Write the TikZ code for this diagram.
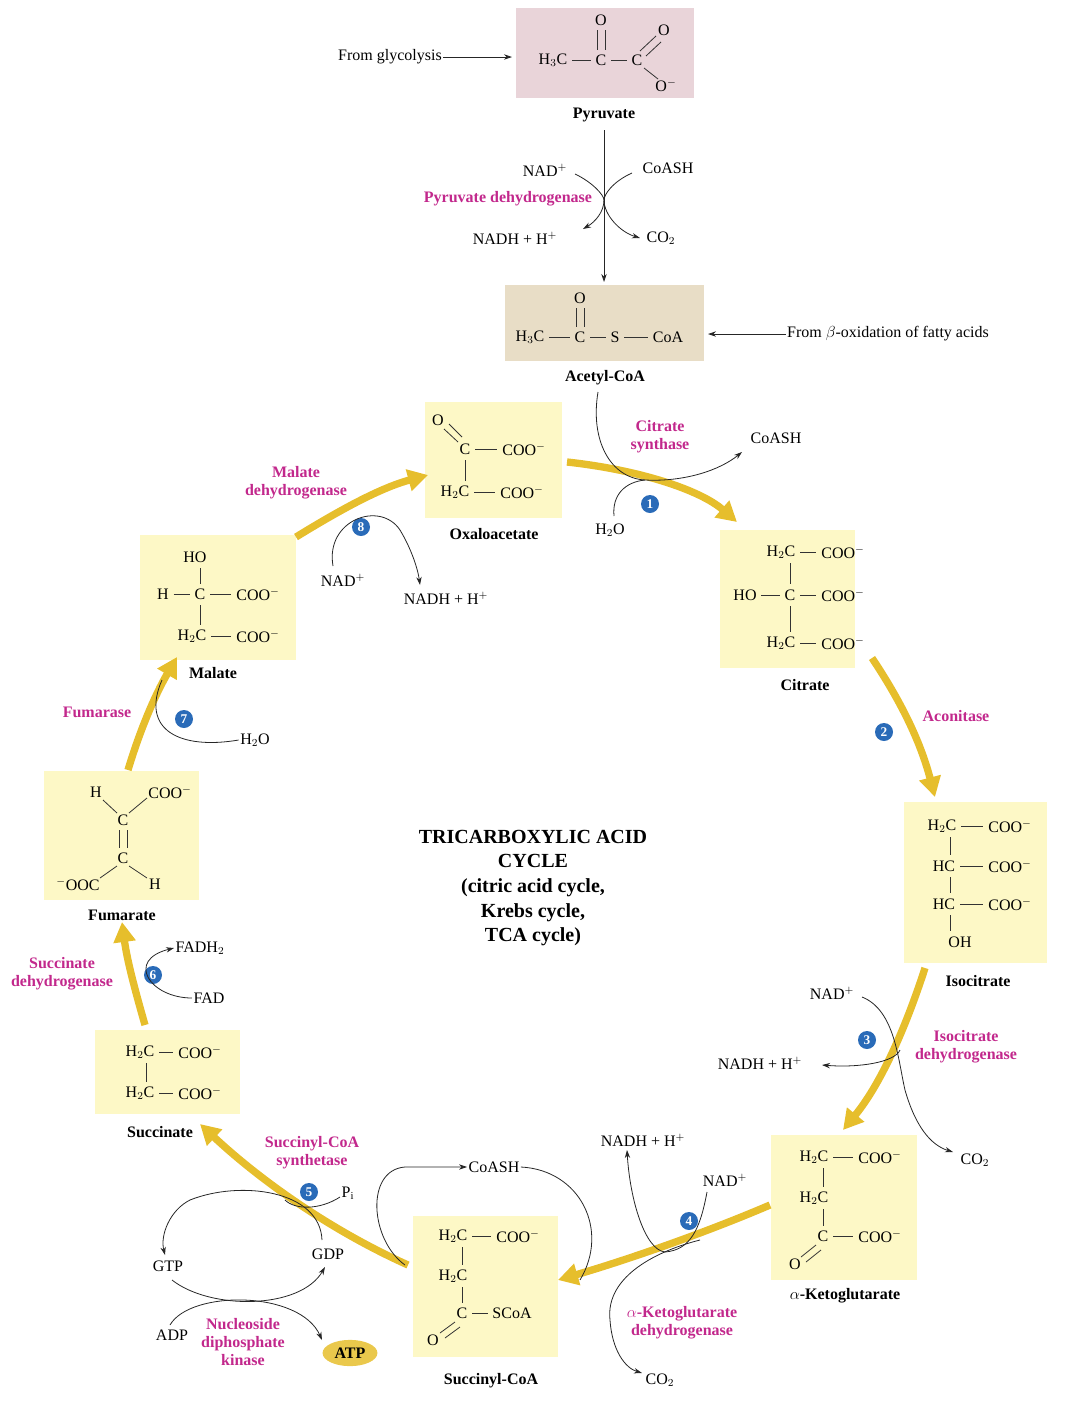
\documentclass[tikz,border=0pt]{standalone}
\usepackage{fontspec}
\setmainfont{Liberation Serif}
\usetikzlibrary{arrows.meta,shapes.geometric}
\definecolor{pinkbox}{HTML}{E9D4D9}
\definecolor{tanbox}{HTML}{E8DDC6}
\definecolor{ybox}{HTML}{FDF8C6}
\definecolor{yarr}{HTML}{E6BE2C}
\definecolor{mag}{HTML}{C2288C}
\definecolor{blu}{HTML}{2A6BB8}
\begin{document}
\begin{tikzpicture}[x=0.75pt,y=-0.75pt,
  every node/.style={inner sep=1pt,font=\fontsize{12}{14}\selectfont},
  lab/.style={font=\fontsize{12}{14}\selectfont\bfseries},
  enz/.style={text=mag,font=\fontsize{12}{13.5}\selectfont\bfseries,align=center},
  num/.style={circle,fill=blu,text=white,inner sep=0pt,minimum size=13.5pt,font=\fontsize{10}{10}\selectfont\bfseries},
  yel/.style={draw=yarr,line width=5.5pt,-{Triangle[length=15pt,width=16pt]}},
  thin/.style={draw=black!85,line width=0.6pt,-{Stealth[length=6pt,width=4pt]}},
  nt/.style={draw=black!85,line width=0.6pt},
  bond/.style={draw=black!80,line width=0.6pt,shorten >=2.5pt,shorten <=2.5pt},
  vb/.style={draw=black!80,line width=0.6pt}]
\useasboundingbox (0,0) rectangle (1092,1418);
% ---------- boxes
\fill[pinkbox] (516,8) rectangle (694,98);
\fill[tanbox] (505,285) rectangle (704,361);
\fill[ybox] (425,402) rectangle (562,518);
\fill[ybox] (720,530) rectangle (855,668);
\fill[ybox] (904,802) rectangle (1047,963);
\fill[ybox] (771,1135) rectangle (917,1280);
\fill[ybox] (413,1216) rectangle (558,1357);
\fill[ybox] (95,1030) rectangle (240,1114);
\fill[ybox] (44,771) rectangle (199,900);
\fill[ybox] (140,535) rectangle (296,660);
% ---------- pyruvate
\node (pyH) at (553,60) {H$_3$C};
\node (pyC1) at (601,60) {C};
\node (pyC2) at (637,60) {C};
\node (pyO1) at (601,20) {O};
\node (pyO2) at (664,30) {O};
\node (pyO3) at (666,85) {O$^-$};
\draw[bond] (pyH) -- (pyC1); \draw[bond] (pyC1) -- (pyC2);
\draw[vb] (597,30) -- (597,50); \draw[vb] (605,30) -- (605,50);
\draw[vb] (640,51) -- (656,36); \draw[vb] (646,56) -- (661,42);
\draw[vb] (644,68) -- (658,79);
\node[lab] (pyr) at (604,115) {Pyruvate};
\node (glyc) at (390,57) {From glycolysis};
\draw[thin] (glyc.east) -- (512,57);
% ---------- pyruvate dehydrogenase
\node[lab] (acl) at (605,378) {Acetyl-CoA};
\draw[thin] (604,130) -- (604,282);
\node (nad0) at (545,170) {NAD$^+$};
\node (coash0) at (668,168) {CoASH};
\node (nadh0) at (515,238) {NADH + H$^+$};
\node (co20) at (661,238) {CO$_2$};
\node[enz] (pdh) at (508,199) {Pyruvate dehydrogenase};
\draw[thin] (575,174) .. controls (592,182) and (604,195) .. (604,200) .. controls (604,212) and (595,222) .. (583,229);
\draw[thin] (632,173) .. controls (612,182) and (604,195) .. (604,200) .. controls (604,215) and (620,232) .. (640,238);
% ---------- acetyl-CoA
\node (acH) at (530,337) {H$_3$C};
\node (acC) at (580,337) {C};
\node (acS) at (615,337) {S};
\node (acCoA) at (668,337) {CoA};
\node (acO) at (580,298) {O};
\draw[bond] (acH) -- (acC); \draw[bond] (acC) -- (acS); \draw[bond] (acS) -- (acCoA);
\draw[vb] (576,308) -- (576,327); \draw[vb] (584,308) -- (584,327);
\node (beta) at (888,334) {From $\beta$-oxidation of fatty acids};
\draw[thin] (beta.west) -- (708,334);
% ---------- oxaloacetate
\node (oxO) at (438,420) {O};
\node (oxC) at (465,449) {C};
\node (oxCOO) at (524,449) {COO$^-$};
\node (oxH2C) at (455,492) {H$_2$C};
\node (oxCOO2) at (522,492) {COO$^-$};
\draw[bond] (oxC) -- (oxCOO); \draw[bond] (oxH2C) -- (oxCOO2);
\draw[vb] (465,460) -- (465,481);
\draw[vb] (444,429) -- (458,442); \draw[vb] (449,424) -- (462,437);
\node[lab] (oxl) at (494,534) {Oxaloacetate};
% ---------- citrate
\node (ci1) at (781,552) {H$_2$C};
\node (ci1b) at (843,552) {COO$^-$};
\node (ciHO) at (745,595) {HO};
\node (ci2) at (790,595) {C};
\node (ci2b) at (843,595) {COO$^-$};
\node (ci3) at (781,643) {H$_2$C};
\node (ci3b) at (843,643) {COO$^-$};
\draw[bond] (ci1) -- (ci1b); \draw[bond] (ciHO) -- (ci2); \draw[bond] (ci2) -- (ci2b); \draw[bond] (ci3) -- (ci3b);
\draw[vb] (790,563) -- (790,584); \draw[vb] (790,606) -- (790,632);
\node[lab] (cil) at (805,685) {Citrate};
% ---------- isocitrate
\node (is1) at (942,826) {H$_2$C};
\node (is1b) at (1010,826) {COO$^-$};
\node (is2) at (944,866) {HC};
\node (is2b) at (1010,866) {COO$^-$};
\node (is3) at (944,904) {HC};
\node (is3b) at (1010,904) {COO$^-$};
\node (is4) at (960,942) {OH};
\draw[bond] (is1) -- (is1b); \draw[bond] (is2) -- (is2b); \draw[bond] (is3) -- (is3b);
\draw[vb] (950,837) -- (950,855); \draw[vb] (950,877) -- (950,893); \draw[vb] (950,915) -- (950,931);
\node[lab] (isl) at (978,981) {Isocitrate};
% ---------- alpha-ketoglutarate
\node (ak1) at (814,1157) {H$_2$C};
\node (ak1b) at (880,1157) {COO$^-$};
\node (ak2) at (814,1198) {H$_2$C};
\node (ak3) at (823,1236) {C};
\node (ak3b) at (880,1236) {COO$^-$};
\node (akO) at (795,1264) {O};
\draw[bond] (ak1) -- (ak1b); \draw[bond] (ak3) -- (ak3b);
\draw[vb] (823,1168) -- (823,1187); \draw[vb] (823,1209) -- (823,1226);
\draw[vb] (816,1245) -- (801,1257); \draw[vb] (821,1250) -- (806,1262);
\node[lab] (akl) at (845,1296) {$\alpha$-Ketoglutarate};
% ---------- succinyl-CoA
\node (sc1) at (453,1236) {H$_2$C};
\node (sc1b) at (518,1236) {COO$^-$};
\node (sc2) at (453,1276) {H$_2$C};
\node (sc3) at (462,1313) {C};
\node (sc3b) at (512,1313) {SCoA};
\node (scO) at (433,1340) {O};
\draw[bond] (sc1) -- (sc1b); \draw[bond] (sc3) -- (sc3b);
\draw[vb] (462,1247) -- (462,1265); \draw[vb] (462,1287) -- (462,1303);
\draw[vb] (455,1322) -- (440,1333); \draw[vb] (460,1327) -- (445,1338);
\node[lab] (scl) at (491,1381) {Succinyl-CoA};
% ---------- succinate
\node (su1) at (140,1052) {H$_2$C};
\node (su1b) at (200,1052) {COO$^-$};
\node (su2) at (140,1093) {H$_2$C};
\node (su2b) at (200,1093) {COO$^-$};
\draw[bond] (su1) -- (su1b); \draw[bond] (su2) -- (su2b);
\draw[vb] (146,1063) -- (146,1082);
\node[lab] (sul) at (160,1132) {Succinate};
% ---------- fumarate
\node (fuH1) at (96,792) {H};
\node (fuC1) at (170,792) {COO$^-$};
\node (fuCa) at (123,820) {C};
\node (fuCb) at (123,858) {C};
\node (fuC2) at (78,884) {$^-$OOC};
\node (fuH2) at (155,884) {H};
\draw[vb] (103,800) -- (117,813); \draw[vb] (129,813) -- (147,798);
\draw[vb] (119,830) -- (119,848); \draw[vb] (127,830) -- (127,848);
\draw[vb] (117,866) -- (100,878); \draw[vb] (129,866) -- (147,878);
\node[lab] (ful) at (122,915) {Fumarate};
% ---------- malate
\node (maHO) at (195,557) {HO};
\node (maH) at (163,594) {H};
\node (maC) at (200,594) {C};
\node (maCb) at (258,594) {COO$^-$};
\node (ma3) at (192,636) {H$_2$C};
\node (ma3b) at (258,636) {COO$^-$};
\draw[bond] (maH) -- (maC); \draw[bond] (maC) -- (maCb); \draw[bond] (ma3) -- (ma3b);
\draw[vb] (200,568) -- (200,584); \draw[vb] (200,605) -- (200,625);
\node[lab] (mal) at (213,673) {Malate};
% ---------- yellow cycle arrows
\draw[yel] (567,462) .. controls (640,470) and (700,490) .. (737,522);
\draw[yel] (872,658) .. controls (900,700) and (920,740) .. (935,797);
\draw[yel] (925,968) .. controls (905,1030) and (880,1085) .. (843,1130);
\draw[yel] (770,1205) .. controls (700,1235) and (620,1262) .. (558,1280);
\draw[yel] (408,1265) .. controls (330,1230) and (260,1180) .. (200,1124);
\draw[yel] (145,1025) .. controls (135,990) and (127,960) .. (122,922);
\draw[yel] (128,770) .. controls (140,730) and (155,695) .. (177,657);
\draw[yel] (296,537) .. controls (340,510) and (380,488) .. (428,475);
% ---------- enzymes and numbers
\node[enz] at (660,437) {Citrate\\synthase};
\node[enz] at (956,716) {Aconitase};
\node[enz] at (966,1047) {Isocitrate\\dehydrogenase};
\node[enz] at (682,1323) {$\alpha$-Ketoglutarate\\dehydrogenase};
\node[enz] at (312,1153) {Succinyl-CoA\\synthetase};
\node[enz] (ndk) at (243,1342) {Nucleoside\\diphosphate\\kinase};
\node[enz] at (62,974) {Succinate\\dehydrogenase};
\node[enz] at (97,712) {Fumarase};
\node[enz] at (296,483) {Malate\\dehydrogenase};
\node[num] at (650,504) {1};
\node[num] at (884,732) {2};
\node[num] at (867,1040) {3};
\node[num] at (689,1221) {4};
\node[num] at (309,1192) {5};
\node[num] at (153,975) {6};
\node[num] at (184,719) {7};
\node[num] at (361,527) {8};
% ---------- step 1
\node (coash1) at (776,438) {CoASH};
\node (h2o1) at (610,530) {H$_2$O};
\draw[thin] (598,392) .. controls (590,440) and (610,478) .. (645,480) .. controls (685,482) and (720,470) .. (742,452);
\draw[nt] (614,516) .. controls (612,495) and (625,482) .. (645,480);
% ---------- step 3
\node (nad3) at (832,993) {NAD$^+$};
\node (nadh3) at (760,1063) {NADH + H$^+$};
\node (co23) at (975,1160) {CO$_2$};
\draw[thin] (862,997) .. controls (895,1010) and (898,1060) .. (905,1090) .. controls (915,1125) and (930,1145) .. (953,1152);
\draw[thin] (900,1050) .. controls (895,1062) and (860,1068) .. (822,1065);
% ---------- step 4
\node (nad4) at (725,1180) {NAD$^+$};
\node (nadh4) at (643,1140) {NADH + H$^+$};
\node (co24) at (660,1380) {CO$_2$};
\draw[thin] (707,1192) .. controls (700,1230) and (690,1250) .. (665,1252) .. controls (645,1250) and (630,1200) .. (627,1150);
\draw[thin] (700,1240) .. controls (660,1250) and (605,1275) .. (610,1320) .. controls (612,1350) and (625,1368) .. (642,1373);
\node (coash5) at (494,1167) {CoASH};
\draw[nt] (coash5.east) .. controls (580,1170) and (610,1230) .. (580,1280);
% ---------- step 5
\draw[thin] (405,1265) .. controls (370,1240) and (365,1170) .. (405,1167) -- (coash5.west);
\node (pi) at (348,1193) {P$_\mathrm{i}$};
\node (gtp) at (168,1266) {GTP};
\node (gdp) at (328,1254) {GDP};
\node (adp) at (172,1335) {ADP};
\node[ellipse,fill=yarr!85,inner sep=3pt,font=\fontsize{12}{14}\selectfont\bfseries] (atp) at (350,1353) {ATP};
\draw[nt] (340,1197) .. controls (320,1210) and (295,1210) .. (285,1200);
\draw[thin] (322,1240) .. controls (320,1190) and (240,1180) .. (190,1200) .. controls (170,1210) and (160,1235) .. (165,1255);
\draw[thin] (172,1280) .. controls (210,1310) and (300,1310) .. (325,1267);
\draw[thin] (170,1325) .. controls (190,1290) and (300,1290) .. (322,1340);
% ---------- step 6
\node (fadh2) at (200,948) {FADH$_2$};
\node (fad) at (209,998) {FAD};
\draw[thin] (fad.west) .. controls (150,998) and (125,960) .. (fadh2.west);
% ---------- step 7
\node (h2o7) at (255,740) {H$_2$O};
\draw[nt] (h2o7.west) .. controls (180,750) and (140,730) .. (162,680);
% ---------- step 8
\node (nad8) at (343,580) {NAD$^+$};
\node (nadh8) at (446,598) {NADH + H$^+$};
\draw[thin] (333,566) .. controls (325,520) and (380,500) .. (400,530) .. controls (412,550) and (418,570) .. (420,585);
% ---------- centre
\node[align=center,font=\fontsize{15}{18.5}\selectfont\bfseries] (title) at (533,888)
 {TRICARBOXYLIC ACID\\CYCLE\\(citric acid cycle,\\Krebs cycle,\\TCA cycle)};
\end{tikzpicture}
\end{document}
